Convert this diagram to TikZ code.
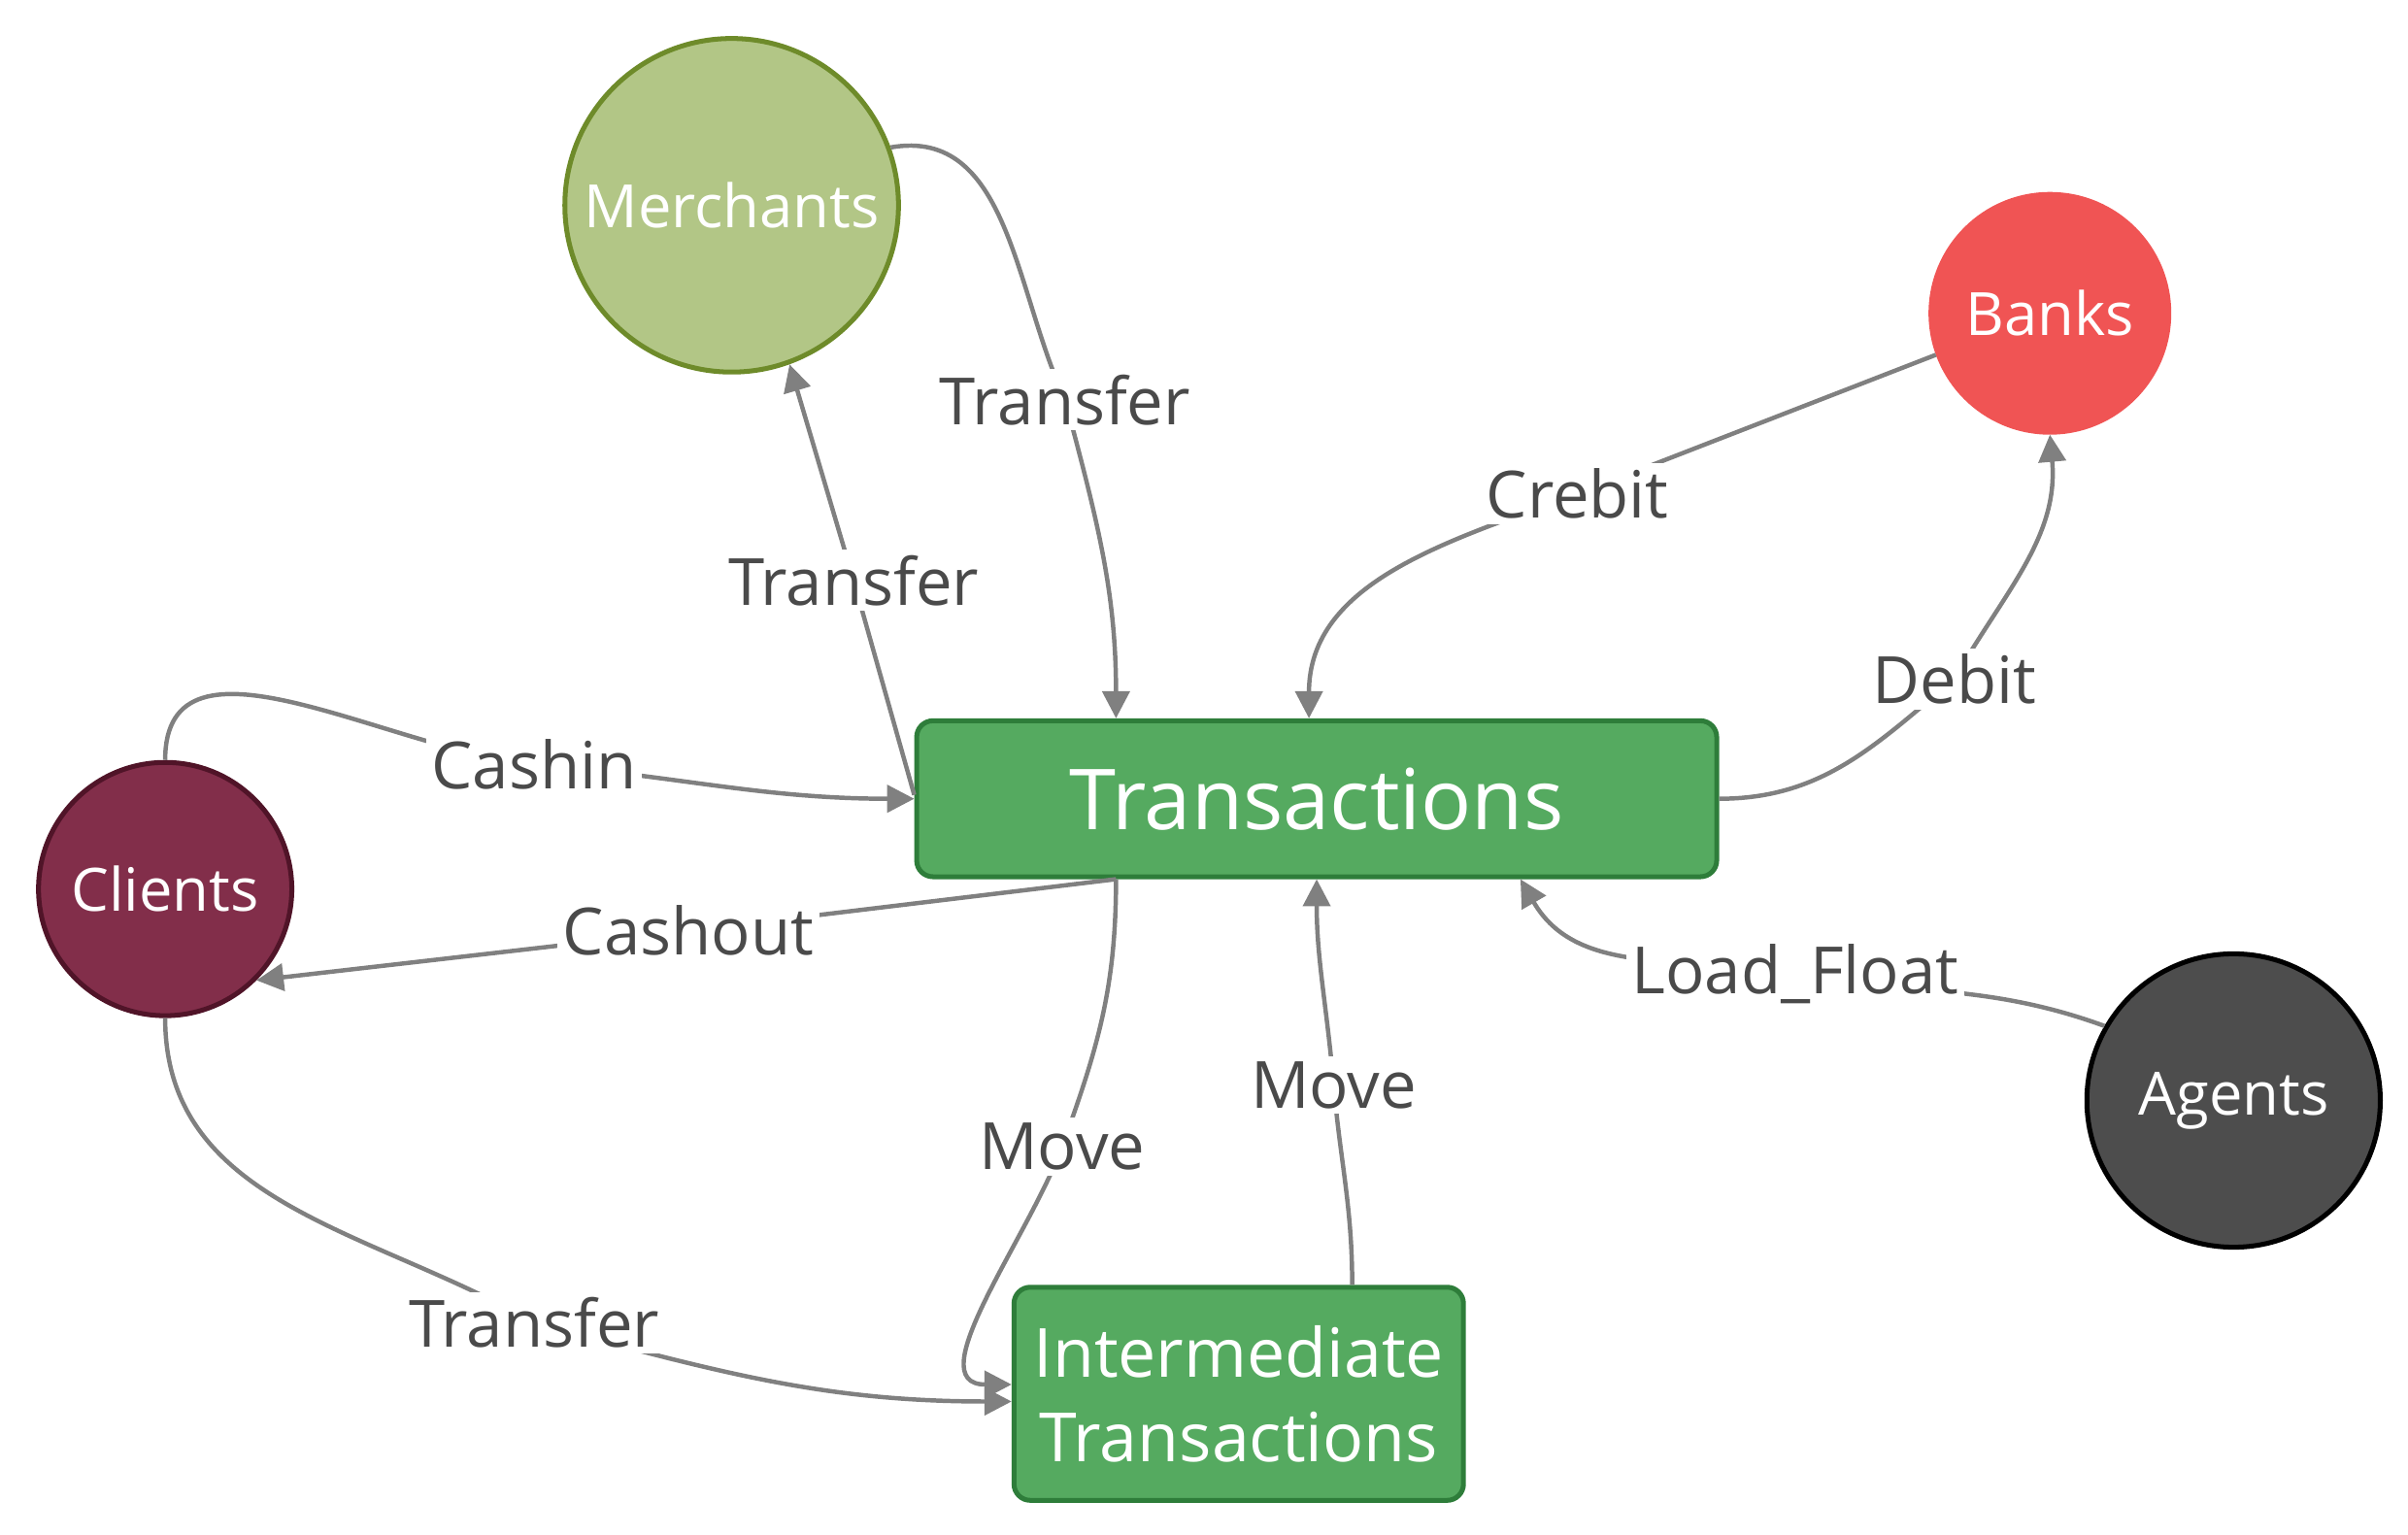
\documentclass[tikz,border=0pt]{standalone}
\usepackage{fontspec}
\setmainfont{Open Sans}
\usetikzlibrary{arrows.meta}
\definecolor{lbl}{HTML}{4A4A4A}
\definecolor{edge}{HTML}{808080}
\definecolor{grn}{HTML}{55AA60}
\definecolor{grnb}{HTML}{2E7D3A}
\begin{document}
\begin{tikzpicture}[x=0.01cm,y=-0.01cm,
  circ/.style={circle,inner sep=0pt,line width=0.9pt,text=white,font=\fontsize{11}{13}\selectfont},
  boxn/.style={rectangle,rounded corners=3pt,fill=grn,draw=grnb,line width=0.9pt,text=white,inner sep=0pt,align=center},
  lab/.style={fill=white,text=lbl,inner sep=1pt,font=\fontsize{12}{14}\selectfont},
  con/.style={draw=edge,line width=0.8pt},
  arr/.style={con,-{Triangle[length=5pt,width=5pt]}}]
\useasboundingbox (0,0) rectangle (1560,994);
\node[circ,minimum size=2.16cm,fill={rgb,255:red,178;green,198;blue,134},draw={rgb,255:red,110;green,139;blue,42}] (m) at (474,133) {Merchants};
\node[circ,minimum size=1.54cm,fill={rgb,255:red,240;green,84;blue,84},draw={rgb,255:red,240;green,84;blue,84}] (b) at (1328,203) {Banks};
\node[circ,minimum size=1.64cm,fill={rgb,255:red,130;green,46;blue,74},draw={rgb,255:red,80;green,20;blue,40}] (c) at (107,576) {Clients};
\node[circ,minimum size=1.90cm,fill={rgb,255:red,77;green,77;blue,77},draw=black] (a) at (1447,713) {Agents};
\node[boxn,minimum width=5.18cm,minimum height=1.01cm,font=\fontsize{15.5}{18}\selectfont] (t) at (853,517.5) {Transactions};
\node[boxn,minimum width=2.91cm,minimum height=1.38cm,font=\fontsize{12.5}{15.5}\selectfont] (i) at (802.5,903) {Intermediate\\ Transactions};
% labels
\node[lab] (l1) at (690,259) {Transfer};
\node[lab] (l2) at (553,376) {Transfer};
\node[lab] (l3) at (1022,320) {Crebit};
\node[lab] (l4) at (1266,440) {Debit};
\node[lab] (l5) at (346,495) {Cashin};
\node[lab] (l6) at (446,603) {Cashout};
\node[lab] (l7) at (688,743) {Move};
\node[lab] (l8) at (864,703) {Move};
\node[lab] (l9) at (1163,631) {Load\_Float};
\node[lab] (l10) at (346,857) {Transfer};
% edges
\draw[con] (m.20) to[out=10,in=115] (l1.center);
\draw[arr] (l1.center) to[out=-75,in=90] (t.north west -| 723,0);
\draw[con] (t.west |- 0,515) -- (l2.center);
\draw[arr] (l2.center) -- (m.-70);
\draw[con] (b.200) -- (l3.center);
\draw[arr] (l3.center) to[out=200,in=90] (t.north -| 848,0);
\draw[con] (t.east) to[out=0,in=220] (l4.center);
\draw[arr] (l4.center) to[out=60,in=-85] (b.south);
\draw[con] (c.north) to[out=90,in=175] (l5.center);
\draw[arr] (l5.center) to[out=-5,in=180] (t.west);
\draw[con] (t.south -| 723,0) -- (l6.center);
\draw[arr] (l6.center) -- (c.-45);
\draw[con] (t.south -| 723,0) to[out=-90,in=70] (l7.center);
\draw[arr] (l7.center) to[out=-110,in=180] (i.west |- 0,897);
\draw[con] (i.north -| 876,0) to[out=90,in=-85] (l8.center);
\draw[arr] (l8.center) to[out=95,in=-90] (t.south);
\draw[con] (a.150) to[out=160,in=-10] (l9.center);
\draw[arr] (l9.center) to[out=170,in=-60] (t.south -| 985,0);
\draw[con] (c.south) to[out=-90,in=150] (l10.center);
\draw[arr] (l10.center) to[out=-15,in=180] (i.west |- 0,908);
\foreach \n/\t in {l1/Transfer,l2/Transfer,l3/Crebit,l4/Debit,l5/Cashin,l6/Cashout,l7/Move,l8/Move,l9/Load\_Float,l10/Transfer}
  \node[lab] at (\n) {\t};
\end{tikzpicture}
\end{document}
